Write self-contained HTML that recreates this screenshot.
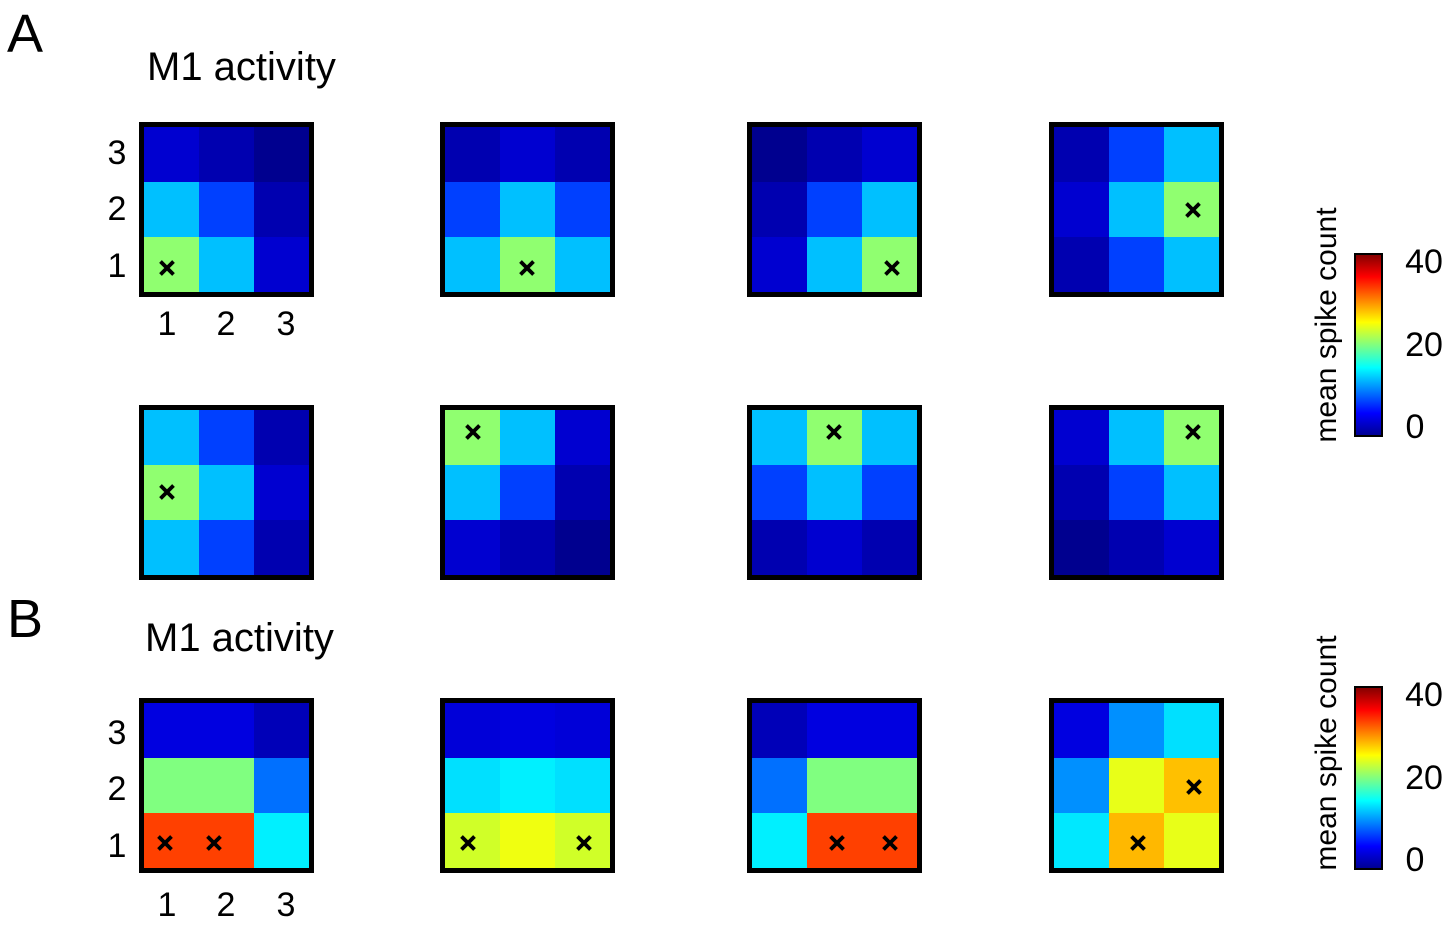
<!DOCTYPE html>
<html><head><meta charset="utf-8"><style>
html,body{margin:0;padding:0;background:#fff;}
svg{display:block;font-family:"Liberation Sans",Arial,sans-serif;}
</style></head><body>
<svg width="1453" height="926" viewBox="0 0 1453 926">
<defs>
<linearGradient id="jet" x1="0" y1="1" x2="0" y2="0">
<stop offset="0" stop-color="#00008f"/>
<stop offset="0.125" stop-color="#0000ff"/>
<stop offset="0.375" stop-color="#00ffff"/>
<stop offset="0.5" stop-color="#80ff80"/>
<stop offset="0.625" stop-color="#ffff00"/>
<stop offset="0.875" stop-color="#ff0000"/>
<stop offset="1" stop-color="#800000"/>
</linearGradient>
<g id="x"><path d="M-6.5,-6.5 L6.5,6.5 M6.5,-6.5 L-6.5,6.5" stroke="#000" stroke-width="3.8"/></g>
</defs>
<text x="7" y="52" font-size="54">A</text>
<text x="147" y="80" font-size="40">M1 activity</text>
<text x="7" y="637" font-size="54">B</text>
<text x="145" y="651" font-size="40">M1 activity</text>
<g font-size="34" text-anchor="middle">
<text x="117" y="164">3</text><text x="117" y="220">2</text><text x="117" y="277">1</text>
<text x="167" y="335">1</text><text x="226" y="335">2</text><text x="286" y="335">3</text>
<text x="117" y="744">3</text><text x="117" y="800">2</text><text x="117" y="857">1</text>
<text x="167" y="916">1</text><text x="226" y="916">2</text><text x="286" y="916">3</text>
</g>
<g>
<rect x="144" y="127" width="55" height="55" fill="#0000d0"/><rect x="199" y="127" width="55" height="55" fill="#0000b0"/><rect x="254" y="127" width="55" height="55" fill="#00008f"/>
<rect x="144" y="182" width="55" height="55" fill="#00c0ff"/><rect x="199" y="182" width="55" height="55" fill="#0040ff"/><rect x="254" y="182" width="55" height="55" fill="#0000b0"/>
<rect x="144" y="237" width="55" height="55" fill="#90ff70"/><rect x="199" y="237" width="55" height="55" fill="#00c0ff"/><rect x="254" y="237" width="55" height="55" fill="#0000d0"/>
<use href="#x" x="167" y="268"/>
<rect x="141.5" y="124.5" width="170" height="170" fill="none" stroke="#000" stroke-width="5"/>
</g>
<g>
<rect x="445" y="127" width="55" height="55" fill="#0000b0"/><rect x="500" y="127" width="55" height="55" fill="#0000d0"/><rect x="555" y="127" width="55" height="55" fill="#0000b0"/>
<rect x="445" y="182" width="55" height="55" fill="#0040ff"/><rect x="500" y="182" width="55" height="55" fill="#00c0ff"/><rect x="555" y="182" width="55" height="55" fill="#0040ff"/>
<rect x="445" y="237" width="55" height="55" fill="#00c0ff"/><rect x="500" y="237" width="55" height="55" fill="#90ff70"/><rect x="555" y="237" width="55" height="55" fill="#00c0ff"/>
<use href="#x" x="527" y="268"/>
<rect x="442.5" y="124.5" width="170" height="170" fill="none" stroke="#000" stroke-width="5"/>
</g>
<g>
<rect x="752" y="127" width="55" height="55" fill="#00008f"/><rect x="807" y="127" width="55" height="55" fill="#0000b0"/><rect x="862" y="127" width="55" height="55" fill="#0000d0"/>
<rect x="752" y="182" width="55" height="55" fill="#0000b0"/><rect x="807" y="182" width="55" height="55" fill="#0040ff"/><rect x="862" y="182" width="55" height="55" fill="#00c0ff"/>
<rect x="752" y="237" width="55" height="55" fill="#0000d0"/><rect x="807" y="237" width="55" height="55" fill="#00c0ff"/><rect x="862" y="237" width="55" height="55" fill="#90ff70"/>
<use href="#x" x="892" y="268"/>
<rect x="749.5" y="124.5" width="170" height="170" fill="none" stroke="#000" stroke-width="5"/>
</g>
<g>
<rect x="1054" y="127" width="55" height="55" fill="#0000b0"/><rect x="1109" y="127" width="55" height="55" fill="#0040ff"/><rect x="1164" y="127" width="55" height="55" fill="#00c0ff"/>
<rect x="1054" y="182" width="55" height="55" fill="#0000d0"/><rect x="1109" y="182" width="55" height="55" fill="#00c0ff"/><rect x="1164" y="182" width="55" height="55" fill="#90ff70"/>
<rect x="1054" y="237" width="55" height="55" fill="#0000b0"/><rect x="1109" y="237" width="55" height="55" fill="#0040ff"/><rect x="1164" y="237" width="55" height="55" fill="#00c0ff"/>
<use href="#x" x="1193" y="210"/>
<rect x="1051.5" y="124.5" width="170" height="170" fill="none" stroke="#000" stroke-width="5"/>
</g>
<g>
<rect x="144" y="410" width="55" height="55" fill="#00c0ff"/><rect x="199" y="410" width="55" height="55" fill="#0040ff"/><rect x="254" y="410" width="55" height="55" fill="#0000b0"/>
<rect x="144" y="465" width="55" height="55" fill="#90ff70"/><rect x="199" y="465" width="55" height="55" fill="#00c0ff"/><rect x="254" y="465" width="55" height="55" fill="#0000d0"/>
<rect x="144" y="520" width="55" height="55" fill="#00c0ff"/><rect x="199" y="520" width="55" height="55" fill="#0040ff"/><rect x="254" y="520" width="55" height="55" fill="#0000b0"/>
<use href="#x" x="167" y="492"/>
<rect x="141.5" y="407.5" width="170" height="170" fill="none" stroke="#000" stroke-width="5"/>
</g>
<g>
<rect x="445" y="410" width="55" height="55" fill="#90ff70"/><rect x="500" y="410" width="55" height="55" fill="#00c0ff"/><rect x="555" y="410" width="55" height="55" fill="#0000d0"/>
<rect x="445" y="465" width="55" height="55" fill="#00c0ff"/><rect x="500" y="465" width="55" height="55" fill="#0040ff"/><rect x="555" y="465" width="55" height="55" fill="#0000b0"/>
<rect x="445" y="520" width="55" height="55" fill="#0000d0"/><rect x="500" y="520" width="55" height="55" fill="#0000b0"/><rect x="555" y="520" width="55" height="55" fill="#00008f"/>
<use href="#x" x="473" y="432"/>
<rect x="442.5" y="407.5" width="170" height="170" fill="none" stroke="#000" stroke-width="5"/>
</g>
<g>
<rect x="752" y="410" width="55" height="55" fill="#00c0ff"/><rect x="807" y="410" width="55" height="55" fill="#90ff70"/><rect x="862" y="410" width="55" height="55" fill="#00c0ff"/>
<rect x="752" y="465" width="55" height="55" fill="#0040ff"/><rect x="807" y="465" width="55" height="55" fill="#00c0ff"/><rect x="862" y="465" width="55" height="55" fill="#0040ff"/>
<rect x="752" y="520" width="55" height="55" fill="#0000b0"/><rect x="807" y="520" width="55" height="55" fill="#0000d0"/><rect x="862" y="520" width="55" height="55" fill="#0000b0"/>
<use href="#x" x="834" y="432"/>
<rect x="749.5" y="407.5" width="170" height="170" fill="none" stroke="#000" stroke-width="5"/>
</g>
<g>
<rect x="1054" y="410" width="55" height="55" fill="#0000d0"/><rect x="1109" y="410" width="55" height="55" fill="#00c0ff"/><rect x="1164" y="410" width="55" height="55" fill="#90ff70"/>
<rect x="1054" y="465" width="55" height="55" fill="#0000b0"/><rect x="1109" y="465" width="55" height="55" fill="#0040ff"/><rect x="1164" y="465" width="55" height="55" fill="#00c0ff"/>
<rect x="1054" y="520" width="55" height="55" fill="#00008f"/><rect x="1109" y="520" width="55" height="55" fill="#0000b0"/><rect x="1164" y="520" width="55" height="55" fill="#0000d0"/>
<use href="#x" x="1193" y="432"/>
<rect x="1051.5" y="407.5" width="170" height="170" fill="none" stroke="#000" stroke-width="5"/>
</g>
<g>
<rect x="144" y="703" width="55" height="55" fill="#0000e0"/><rect x="199" y="703" width="55" height="55" fill="#0000e0"/><rect x="254" y="703" width="55" height="55" fill="#0000b8"/>
<rect x="144" y="758" width="55" height="55" fill="#80ff80"/><rect x="199" y="758" width="55" height="55" fill="#80ff80"/><rect x="254" y="758" width="55" height="55" fill="#0070ff"/>
<rect x="144" y="813" width="55" height="55" fill="#ff4000"/><rect x="199" y="813" width="55" height="55" fill="#ff4000"/><rect x="254" y="813" width="55" height="55" fill="#00f0ff"/>
<use href="#x" x="165" y="843"/><use href="#x" x="214" y="843"/>
<rect x="141.5" y="700.5" width="170" height="170" fill="none" stroke="#000" stroke-width="5"/>
</g>
<g>
<rect x="445" y="703" width="55" height="55" fill="#0000d8"/><rect x="500" y="703" width="55" height="55" fill="#0000e0"/><rect x="555" y="703" width="55" height="55" fill="#0000d8"/>
<rect x="445" y="758" width="55" height="55" fill="#00e0ff"/><rect x="500" y="758" width="55" height="55" fill="#00f0ff"/><rect x="555" y="758" width="55" height="55" fill="#00e0ff"/>
<rect x="445" y="813" width="55" height="55" fill="#d0ff28"/><rect x="500" y="813" width="55" height="55" fill="#f0ff10"/><rect x="555" y="813" width="55" height="55" fill="#d0ff28"/>
<use href="#x" x="468" y="843"/><use href="#x" x="584" y="843"/>
<rect x="442.5" y="700.5" width="170" height="170" fill="none" stroke="#000" stroke-width="5"/>
</g>
<g>
<rect x="752" y="703" width="55" height="55" fill="#0000b8"/><rect x="807" y="703" width="55" height="55" fill="#0000e0"/><rect x="862" y="703" width="55" height="55" fill="#0000e0"/>
<rect x="752" y="758" width="55" height="55" fill="#0070ff"/><rect x="807" y="758" width="55" height="55" fill="#80ff80"/><rect x="862" y="758" width="55" height="55" fill="#80ff80"/>
<rect x="752" y="813" width="55" height="55" fill="#00f0ff"/><rect x="807" y="813" width="55" height="55" fill="#ff4000"/><rect x="862" y="813" width="55" height="55" fill="#ff4000"/>
<use href="#x" x="837" y="843"/><use href="#x" x="890" y="843"/>
<rect x="749.5" y="700.5" width="170" height="170" fill="none" stroke="#000" stroke-width="5"/>
</g>
<g>
<rect x="1054" y="703" width="55" height="55" fill="#0000e0"/><rect x="1109" y="703" width="55" height="55" fill="#0090ff"/><rect x="1164" y="703" width="55" height="55" fill="#00e0ff"/>
<rect x="1054" y="758" width="55" height="55" fill="#0090ff"/><rect x="1109" y="758" width="55" height="55" fill="#e8ff18"/><rect x="1164" y="758" width="55" height="55" fill="#ffc000"/>
<rect x="1054" y="813" width="55" height="55" fill="#00e8ff"/><rect x="1109" y="813" width="55" height="55" fill="#ffb800"/><rect x="1164" y="813" width="55" height="55" fill="#e8ff18"/>
<use href="#x" x="1194" y="787"/><use href="#x" x="1138" y="843"/>
<rect x="1051.5" y="700.5" width="170" height="170" fill="none" stroke="#000" stroke-width="5"/>
</g>
<rect x="1355" y="254" width="27" height="182" fill="url(#jet)" stroke="#000" stroke-width="2"/>
<rect x="1355" y="687" width="27" height="182" fill="url(#jet)" stroke="#000" stroke-width="2"/>
<g font-size="34" text-anchor="middle">
<text x="1424" y="273">40</text><text x="1424" y="356">20</text><text x="1415" y="438">0</text>
<text x="1424" y="706">40</text><text x="1424" y="789">20</text><text x="1415" y="871">0</text>
</g>
<g font-size="30" text-anchor="middle">
<text transform="translate(1336,325) rotate(-90)">mean spike count</text>
<text transform="translate(1336,753) rotate(-90)">mean spike count</text>
</g>
</svg>
</body></html>
